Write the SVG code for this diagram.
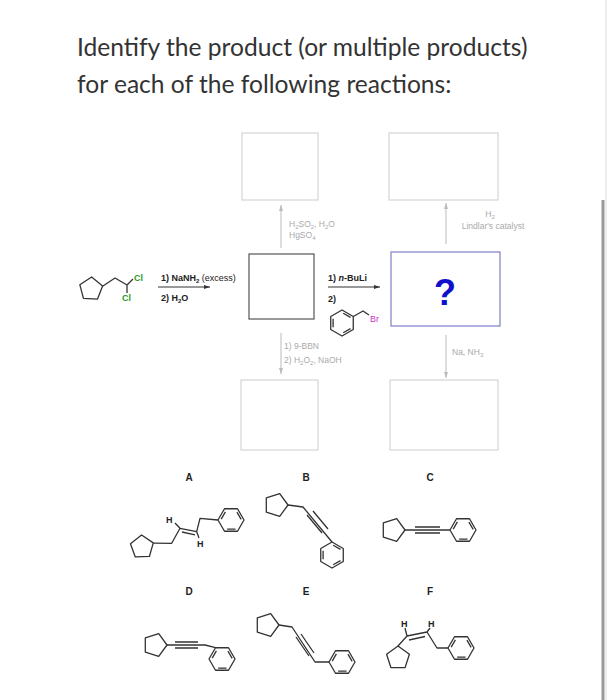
<svg xmlns="http://www.w3.org/2000/svg" width="613" height="700" viewBox="0 0 613 700">
<style>
.t{font-family:Lato,"Open Sans",sans-serif;font-size:24.6px;fill:#333}
.b{fill:none;stroke:#333;stroke-width:1.3;stroke-linejoin:round}
.r{font-family:"Liberation Sans",Arial,sans-serif;font-size:9px;font-weight:bold;fill:#222}
.g{font-family:"Liberation Sans",Arial,sans-serif;font-size:8.5px;fill:#aaa}
.l{font-family:"Liberation Sans",Arial,sans-serif;font-size:10px;font-weight:bold;fill:#222;text-anchor:middle}
.box{fill:#fff;stroke:#ccc;stroke-width:1}
.ga{stroke:#bbb;stroke-width:1;fill:none}
</style>
<defs>
<g id="bz" class="b"><polygon points="0,-13 11.26,-6.5 11.26,6.5 0,13 -11.26,6.5 -11.26,-6.5"/><path d="M1.2,-9.8L8.5,-5.6M8.5,5.6L1.2,9.8M-8.9,4.2L-8.9,-4.2"/></g>
<g id="cp" class="b"><polygon points="12,0 3.7,11.4 -9.7,7.05 -9.7,-7.05 3.7,-11.4"/></g>
<marker id="ah" markerWidth="6" markerHeight="4" refX="6" refY="2" orient="auto"><path d="M0,0L6,2L0,4z" fill="#333"/></marker>
<marker id="gh" markerWidth="6" markerHeight="4" refX="6" refY="2" orient="auto"><path d="M0,0L6,2L0,4z" fill="#bbb"/></marker>
</defs>
<rect width="613" height="700" fill="#fff"/>
<line x1="606" y1="0" x2="606" y2="700" stroke="#ddd"/>
<line x1="603" y1="200" x2="603" y2="700" stroke="#999" stroke-width="3"/>
<text class="t" x="77" y="56">Identify the product (or multiple products)</text>
<text class="t" x="77" y="93">for each of the following reactions:</text>
<g id="boxes">
<rect class="box" x="242" y="133" width="76" height="67"/>
<rect class="box" x="389" y="133" width="109" height="67"/>
<rect class="box" x="241" y="380" width="77" height="70"/>
<rect class="box" x="390" y="380" width="108" height="70"/>
<rect x="249" y="254" width="65" height="65" fill="#fff" stroke="#555" stroke-width="1.2"/>
<rect x="391" y="252" width="109" height="74" fill="#fff" stroke="#8888cc" stroke-width="1.3"/>
<text x="445" y="305" font-family="Liberation Sans,Arial,sans-serif" font-size="36" font-weight="bold" fill="#1010cc" text-anchor="middle">?</text>
</g>
<g id="connectors">
<line x1="158" y1="287" x2="210" y2="287" stroke="#333" marker-end="url(#ah)"/>
<line x1="328" y1="287" x2="380" y2="287" stroke="#333" marker-end="url(#ah)"/>
<line class="ga" x1="281" y1="248" x2="281" y2="205" marker-end="url(#gh)"/>
<line class="ga" x1="281" y1="333" x2="281" y2="374" marker-end="url(#gh)"/>
<line class="ga" x1="446" y1="244" x2="446" y2="203" marker-end="url(#gh)"/>
<line class="ga" x1="446" y1="335" x2="446" y2="378" marker-end="url(#gh)"/>
</g>
<g id="reagents">
<text class="r" x="161" y="281">1) NaNH<tspan font-size="6" dy="2">2</tspan><tspan dy="-2" font-weight="normal"> (excess)</tspan></text>
<text class="r" x="161" y="301">2) H<tspan font-size="6" dy="2">2</tspan><tspan dy="-2">O</tspan></text>
<text class="r" x="328" y="281">1) <tspan font-style="italic">n</tspan>-BuLi</text>
<text class="r" x="328" y="302">2)</text>
<text class="g" x="289" y="227">H<tspan font-size="6" dy="2">2</tspan><tspan dy="-2">SO</tspan><tspan font-size="6" dy="2">2</tspan><tspan dy="-2">, H</tspan><tspan font-size="6" dy="2">2</tspan><tspan dy="-2">O</tspan></text>
<text class="g" x="289" y="238">HgSO<tspan font-size="6" dy="2">4</tspan></text>
<text class="g" x="284" y="349">1) 9-BBN</text>
<text class="g" x="284" y="363">2) H<tspan font-size="6" dy="2">2</tspan><tspan dy="-2">O</tspan><tspan font-size="6" dy="2">2</tspan><tspan dy="-2">, NaOH</tspan></text>
<text class="g" x="490" y="217" text-anchor="middle">H<tspan font-size="6" dy="2">2</tspan></text>
<text class="g" x="493" y="229" text-anchor="middle">Lindlar's catalyst</text>
<text class="g" x="452" y="355">Na, NH<tspan font-size="6" dy="2">3</tspan></text>
</g>
<g id="start">
<use href="#cp" transform="translate(91,289) rotate(-15)"/>
<path class="b" d="M102.6,286.2L115,278L127,285L133,279M127,285L127,293"/>
<text x="134" y="281" font-family="Liberation Sans,Arial,sans-serif" font-size="9" font-weight="bold" fill="#2a9d2a">Cl</text>
<text x="122" y="301" font-family="Liberation Sans,Arial,sans-serif" font-size="9" font-weight="bold" fill="#2a9d2a">Cl</text>
</g>
<g id="benzylbromide">
<use href="#bz" transform="translate(342,323)"/>
<path class="b" d="M353.3,316.5L363,311L369,315"/>
<text x="370" y="322" font-family="Liberation Sans,Arial,sans-serif" font-size="9" fill="#cc33cc">Br</text>
</g>
<g id="labels">
<text class="l" x="189" y="481">A</text><text class="l" x="306" y="481">B</text><text class="l" x="430" y="481">C</text>
<text class="l" x="189" y="595">D</text><text class="l" x="306" y="595">E</text><text class="l" x="430" y="595">F</text>
</g>
<g id="molA">
<use href="#cp" transform="translate(142,547) rotate(-20)"/>
<path class="b" d="M153.3,543.2L171.7,543.3L180,528.3L196.7,531.7L200,518.3L218,520M182,532L195,534.8M180,528.3L175,523M196.7,531.7L199,538"/>
<use href="#bz" transform="translate(231,520) rotate(30)"/>
<text class="r" x="166" y="523">H</text><text class="r" x="197" y="547">H</text>
</g>
<g id="molB">
<use href="#cp" transform="translate(276,505)"/>
<path class="b" d="M288,505L303,507L332,542M307,515L322,533M313,511L328,529"/>
<use href="#bz" transform="translate(332,555)"/>
</g>
<g id="molC">
<use href="#cp" transform="translate(393,530)"/>
<path class="b" d="M405,530L450,530M415,527L440,527M415,533L440,533"/>
<use href="#bz" transform="translate(463,530) rotate(30)"/>
</g>
<g id="molD">
<use href="#cp" transform="translate(155,645)"/>
<path class="b" d="M167,645L205,645L215.5,647.7M175,642L198,642M175,648L198,648"/>
<use href="#bz" transform="translate(222,659) rotate(30)"/>
</g>
<g id="molE">
<use href="#cp" transform="translate(267,625)"/>
<path class="b" d="M279,625L292,627L315,662L329,662M296,637L309,656M301,634L314,653"/>
<use href="#bz" transform="translate(342,662) rotate(30)"/>
</g>
<g id="molF">
<use href="#cp" transform="translate(398,658) rotate(-90)"/>
<path class="b" d="M398,646L407,636L427,632L437,648L448,648M409,640L425,636.5M407,636L405,628M427,632L430,628"/>
<use href="#bz" transform="translate(461,648) rotate(30)"/>
<text class="r" x="401" y="627">H</text><text class="r" x="428" y="627">H</text>
</g>
</svg>
